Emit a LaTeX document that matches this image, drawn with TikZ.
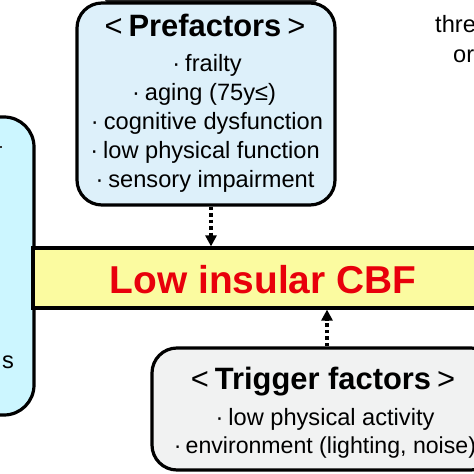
\documentclass[tikz,border=0pt]{standalone}
\usepackage{fontspec}
\setmainfont{Liberation Sans}
\usetikzlibrary{arrows.meta}
\definecolor{preblue}{HTML}{DDF0FA}
\definecolor{leftcyan}{HTML}{CCF6FF}
\definecolor{baryellow}{HTML}{FBFBA0}
\definecolor{triggray}{HTML}{F1F2F2}
\definecolor{cbfred}{HTML}{E8000B}
\tikzset{
  roundbox/.style={draw=black, line width=3.2bp, rounded corners=25bp, inner sep=0pt},
  itemtext/.style={anchor=base, inner sep=0pt, font=\fontsize{23.7}{26}\selectfont},
  titletext/.style={anchor=base, inner sep=0pt, font=\fontsize{31}{34}\selectfont},
  darr/.style={line width=3.4bp, dash pattern=on 3.5bp off 3bp, -{Triangle[width=11bp,length=11bp]}},
}
\begin{document}
\begin{tikzpicture}[x=1bp,y=-1bp]
\useasboundingbox (0,0) rectangle (474,474);
\clip (0,0) rectangle (474,474);
\fill[white] (0,0) rectangle (474,474);
% dark shape cut at top edge
\fill[black!85, rounded corners=6bp] (104,-12) rectangle (318,3);
% left box (cut)
\node[roundbox, fill=leftcyan, rounded corners=30bp, minimum width=76bp, minimum height=298bp] (left) at (-4,266) {};
\node[itemtext, anchor=base west] (lefts) at (2,368) {s};
\draw[line width=1.2bp, black!80] (0,147) -- (2,147);
% prefactors
\node[roundbox, fill=preblue, minimum width=258bp, minimum height=202bp] (pre) at (206,104) {};
\node[titletext] (pretitle) at (205,37) {<\hspace{6bp}\textbf{Prefactors}\hspace{6bp}>};
\node[itemtext] (p1) at (207,72) {·\hspace{5bp}frailty};
\node[itemtext] (p2) at (204,101) {·\hspace{5bp}aging (75y≤)};
\node[itemtext] (p3) at (207,130) {·\hspace{5bp}cognitive dysfunction};
\node[itemtext] (p4) at (205,159) {·\hspace{5bp}low physical function};
\node[itemtext] (p5) at (205,188) {·\hspace{5bp}sensory impairment};
% bar
\node[draw=black, line width=3.2bp, fill=baryellow, minimum width=460bp, minimum height=60bp, inner sep=0pt] (bar) at (263,278) {};
\node[anchor=base, inner sep=0pt, text=cbfred, font=\fontsize{39}{42}\selectfont\bfseries] (cbf) at (263,293) {Low insular CBF};
% trigger
\node[roundbox, fill=triggray, minimum width=344bp, minimum height=122bp] (trig) at (324,409) {};
\node[titletext] (trigtitle) at (323,389) {<\hspace{6bp}\textbf{Trigger factors}\hspace{6bp}>};
\node[itemtext] (t1) at (325,425) {·\hspace{5bp}low physical activity};
\node[itemtext, font=\fontsize{23.2}{26}\selectfont] (t2) at (325,453) {·\hspace{4bp}environment (lighting, noise)};
% top right fragments
\node[itemtext, anchor=base west] (thre) at (435,33) {thre};
\node[itemtext, anchor=base west] (or) at (453,63) {or};
% arrows
\coordinate (a1) at ([xshift=5bp]pre.south);
\draw[darr] (a1) -- (a1 |- bar.north);
\coordinate (a2) at (327,0);
\draw[darr] (a2 |- trig.north) -- (a2 |- bar.south);
\end{tikzpicture}
\end{document}
